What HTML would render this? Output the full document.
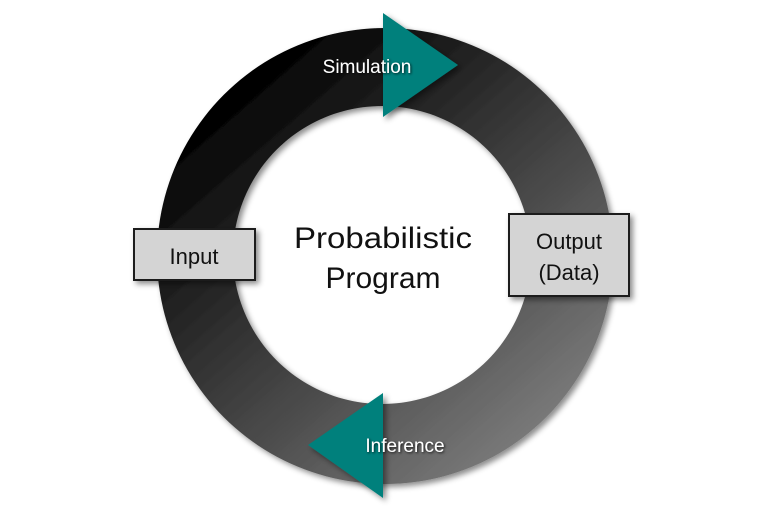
<!DOCTYPE html>
<html><head><style>
html,body{margin:0;padding:0;background:#fff;width:768px;height:511px;overflow:hidden}
</style></head><body>
<svg width="768" height="511" viewBox="0 0 768 511" xmlns="http://www.w3.org/2000/svg">
<defs>
<linearGradient id="g" x1="0.2" y1="0.15" x2="0.85" y2="0.9">
<stop offset="0" stop-color="#050505"/>
<stop offset="1" stop-color="#7c7c7c"/>
</linearGradient>
<filter id="s" x="-20%" y="-20%" width="140%" height="140%"><feDropShadow dx="3" dy="3" stdDeviation="3" flood-opacity="0.45"/></filter>
<filter id="t"><feDropShadow dx="1" dy="1" stdDeviation="1.2" flood-opacity="0.8"/></filter>
</defs>
<path filter="url(#s)" fill="url(#g)" fill-rule="evenodd" d="M385,28 a228,228 0 1,0 0.01,0 Z M382,106 a149,149 0 1,1 -0.01,0 Z"/>
<polygon points="383,13 458,65 383,117" fill="#00807c" filter="url(#s)"/>
<polygon points="383,393 308,445 383,498" fill="#00807c" filter="url(#s)"/>
<rect x="134" y="229" width="121" height="51" fill="#d4d4d4" stroke="#1a1a1a" stroke-width="2" filter="url(#s)"/>
<rect x="509" y="214" width="120" height="82" fill="#d4d4d4" stroke="#1a1a1a" stroke-width="2" filter="url(#s)"/>
<g font-family="Liberation Sans, sans-serif" text-anchor="middle">
<text x="194" y="264" font-size="22" fill="#111">Input</text>
<text x="569" y="249" font-size="22" fill="#111">Output</text>
<text x="569" y="280" font-size="22" fill="#111">(Data)</text>
<text x="383" y="248" font-size="30" fill="#111" textLength="178" lengthAdjust="spacingAndGlyphs">Probabilistic</text>
<text x="383" y="288" font-size="30" fill="#111">Program</text>
<text x="367" y="73" font-size="19" fill="#fff" filter="url(#t)">Simulation</text>
<text x="405" y="452" font-size="19" fill="#fff" filter="url(#t)">Inference</text>
</g>
</svg>
</body></html>
